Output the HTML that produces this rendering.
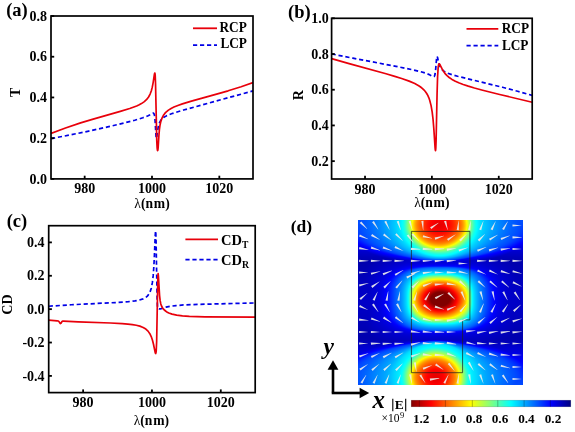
<!DOCTYPE html>
<html><head><meta charset="utf-8"><title>fig</title>
<style>
html,body{margin:0;padding:0;background:#fff;}
body{width:575px;height:432px;overflow:hidden;position:relative;}
#f{position:absolute;left:358px;top:220px;width:165px;height:164.5px;}
#s{position:absolute;left:0;top:0;}
</style></head><body>
<svg id="fb" width="575" height="432" style="position:absolute;left:0;top:0">
<defs>
<radialGradient id="gm"><stop offset="0" stop-color="#8c0000"/><stop offset="0.3" stop-color="#e00000"/><stop offset="0.5" stop-color="#ffa000"/><stop offset="0.6" stop-color="#ffff00"/><stop offset="0.7" stop-color="#00ffff"/><stop offset="0.85" stop-color="#0070ff" stop-opacity="0.6"/><stop offset="1" stop-color="#0000ff" stop-opacity="0"/></radialGradient>
<radialGradient id="gt"><stop offset="0" stop-color="#e80000"/><stop offset="0.3" stop-color="#ff3000"/><stop offset="0.5" stop-color="#ffb000"/><stop offset="0.62" stop-color="#ffff00"/><stop offset="0.75" stop-color="#00ffff"/><stop offset="0.88" stop-color="#0070ff" stop-opacity="0.6"/><stop offset="1" stop-color="#0000ff" stop-opacity="0"/></radialGradient>
<clipPath id="fc"><rect x="358" y="220" width="165" height="164.5"/></clipPath>
</defs>
<g clip-path="url(#fc)">
<rect x="358" y="220" width="165" height="164.5" fill="#0010c8"/>
<ellipse cx="440" cy="222" rx="110" ry="28" fill="#0060ff" opacity="0.6"/>
<ellipse cx="436" cy="382" rx="110" ry="28" fill="#0060ff" opacity="0.6"/>
<ellipse cx="440.3" cy="298.8" rx="52" ry="38" fill="url(#gm)"/>
<ellipse cx="439.5" cy="225" rx="50" ry="39" fill="url(#gt)"/>
<ellipse cx="435.5" cy="378" rx="50" ry="39" fill="url(#gt)"/>
</g></svg>
<canvas id="f" width="165" height="165"></canvas>
<svg id="s" width="575" height="432" viewBox="0 0 575 432">
<g font-family="'Liberation Serif', serif" font-weight="bold" fill="#000">
<clipPath id="c51"><rect x="51" y="16" width="202" height="162.9"/></clipPath>
<g clip-path="url(#c51)" fill="none" stroke-width="1.7" stroke-linejoin="round">
<path d="M51.00 138.60 L69.89 134.99 L88.78 131.09 L107.68 126.92 L124.05 123.02 L134.75 120.22 L142.76 117.79 L147.56 115.94 L149.62 114.94 L152.33 113.39 L153.19 113.12 L153.71 113.33 L154.11 113.98 L154.45 115.18 L154.74 116.98 L155.19 122.14 L155.98 135.79 L156.18 137.74 L156.40 138.40 L156.74 137.16 L157.60 130.73 L158.19 127.27 L158.86 124.52 L159.65 122.33 L160.75 120.34 L162.16 118.67 L163.98 117.22 L166.36 115.87 L169.40 114.55 L172.79 113.32 L183.52 110.03 L253.00 90.91" stroke="#0000e6" stroke-dasharray="4.2 2.8"/>
<path d="M51.00 133.50 L65.48 128.00 L80.60 122.91 L93.19 119.07 L120.27 111.40 L129.72 108.51 L136.64 105.95 L139.22 104.77 L141.45 103.59 L144.34 101.64 L146.69 99.47 L148.57 97.00 L150.12 94.07 L151.28 90.92 L152.28 87.14 L153.15 82.55 L154.38 74.43 L154.62 73.35 L154.80 73.03 L155.02 73.70 L155.21 75.61 L155.54 83.75 L156.76 140.78 L157.16 148.12 L157.41 150.03 L157.67 150.60 L157.90 149.88 L158.12 147.88 L158.90 135.43 L159.37 129.83 L159.96 125.45 L160.73 121.83 L162.00 118.11 L163.65 115.02 L164.64 113.66 L165.75 112.41 L168.43 110.13 L171.09 108.47 L173.92 107.06 L177.87 105.43 L182.39 103.85 L191.43 101.13 L215.72 94.42 L228.15 90.81 L241.14 86.71 L253.00 82.58" stroke="#e8000b"/>
</g>
<line x1="84.67" y1="178.90" x2="84.67" y2="175.70" stroke="#000" stroke-width="1.8"/>
<line x1="152.00" y1="178.90" x2="152.00" y2="175.70" stroke="#000" stroke-width="1.8"/>
<line x1="219.33" y1="178.90" x2="219.33" y2="175.70" stroke="#000" stroke-width="1.8"/>
<line x1="51.00" y1="178.90" x2="54.20" y2="178.90" stroke="#000" stroke-width="1.8"/>
<line x1="51.00" y1="138.18" x2="54.20" y2="138.18" stroke="#000" stroke-width="1.8"/>
<line x1="51.00" y1="97.45" x2="54.20" y2="97.45" stroke="#000" stroke-width="1.8"/>
<line x1="51.00" y1="56.73" x2="54.20" y2="56.73" stroke="#000" stroke-width="1.8"/>
<line x1="51.00" y1="16.00" x2="54.20" y2="16.00" stroke="#000" stroke-width="1.8"/>
<rect x="51.00" y="16.00" width="202.00" height="162.90" fill="none" stroke="#000" stroke-width="1.7"/>
<text x="46.90" y="183.50" font-size="14" text-anchor="end" >0.0</text>
<text x="46.90" y="142.78" font-size="14" text-anchor="end" >0.2</text>
<text x="46.90" y="102.05" font-size="14" text-anchor="end" >0.4</text>
<text x="46.90" y="61.33" font-size="14" text-anchor="end" >0.6</text>
<text x="46.90" y="20.60" font-size="14" text-anchor="end" >0.8</text>
<text x="84.67" y="193.20" font-size="14" text-anchor="middle" >980</text>
<text x="152.00" y="193.20" font-size="14" text-anchor="middle" >1000</text>
<text x="219.33" y="193.20" font-size="14" text-anchor="middle" >1020</text>
<text x="152.00" y="207.90" font-size="13.6" text-anchor="middle" ><tspan font-weight="normal">λ</tspan>(n<tspan dx="0.8">m</tspan>)</text>
<clipPath id="c331"><rect x="331.6" y="18.3" width="200.60000000000002" height="160.7"/></clipPath>
<g clip-path="url(#c331)" fill="none" stroke-width="1.7" stroke-linejoin="round">
<path d="M331.60 53.97 L352.86 58.16 L396.01 66.36 L412.90 69.82 L420.03 71.52 L425.25 73.04 L428.66 74.33 L432.73 76.43 L433.60 76.70 L434.10 76.54 L434.50 76.03 L434.83 75.13 L435.14 73.73 L435.64 69.60 L436.56 58.54 L436.82 56.83 L437.09 56.34 L437.49 57.24 L438.55 61.96 L439.22 64.37 L439.97 66.36 L440.86 68.03 L442.06 69.59 L443.55 70.92 L445.42 72.11 L447.78 73.21 L451.98 74.69 L457.59 76.28 L502.47 87.25 L517.61 91.26 L532.20 95.40" stroke="#0000e6" stroke-dasharray="4.2 2.8"/>
<path d="M331.60 58.65 L349.11 63.60 L386.01 73.77 L394.76 76.32 L401.64 78.47 L409.15 81.13 L414.77 83.57 L419.10 85.97 L420.92 87.23 L422.54 88.55 L424.10 90.06 L425.48 91.70 L426.71 93.47 L427.79 95.42 L428.76 97.57 L429.63 99.98 L431.09 105.59 L432.16 111.84 L433.08 119.71 L433.86 129.21 L435.05 147.40 L435.29 149.84 L435.49 150.64 L435.65 149.99 L435.80 148.11 L436.11 140.16 L437.08 93.57 L437.58 76.77 L438.20 67.11 L438.58 64.78 L438.80 64.16 L439.05 63.85 L439.43 63.94 L439.90 64.56 L442.24 69.22 L443.82 71.85 L445.34 73.87 L447.04 75.69 L449.18 77.52 L451.98 79.42 L455.35 81.24 L458.71 82.75 L463.20 84.47 L468.25 86.16 L474.42 88.01 L481.71 90.01 L499.66 94.52 L532.20 102.25" stroke="#e8000b"/>
</g>
<line x1="365.03" y1="179.00" x2="365.03" y2="175.80" stroke="#000" stroke-width="1.8"/>
<line x1="431.90" y1="179.00" x2="431.90" y2="175.80" stroke="#000" stroke-width="1.8"/>
<line x1="498.77" y1="179.00" x2="498.77" y2="175.80" stroke="#000" stroke-width="1.8"/>
<line x1="331.60" y1="161.14" x2="334.80" y2="161.14" stroke="#000" stroke-width="1.8"/>
<line x1="331.60" y1="125.43" x2="334.80" y2="125.43" stroke="#000" stroke-width="1.8"/>
<line x1="331.60" y1="89.72" x2="334.80" y2="89.72" stroke="#000" stroke-width="1.8"/>
<line x1="331.60" y1="54.01" x2="334.80" y2="54.01" stroke="#000" stroke-width="1.8"/>
<line x1="331.60" y1="18.30" x2="334.80" y2="18.30" stroke="#000" stroke-width="1.8"/>
<rect x="331.60" y="18.30" width="200.60" height="160.70" fill="none" stroke="#000" stroke-width="1.7"/>
<text x="328.70" y="165.74" font-size="14" text-anchor="end" >0.2</text>
<text x="328.70" y="130.03" font-size="14" text-anchor="end" >0.4</text>
<text x="328.70" y="94.32" font-size="14" text-anchor="end" >0.6</text>
<text x="328.70" y="58.61" font-size="14" text-anchor="end" >0.8</text>
<text x="328.70" y="22.90" font-size="14" text-anchor="end" >1.0</text>
<text x="365.03" y="193.60" font-size="14" text-anchor="middle" >980</text>
<text x="431.90" y="193.60" font-size="14" text-anchor="middle" >1000</text>
<text x="498.77" y="193.60" font-size="14" text-anchor="middle" >1020</text>
<text x="431.80" y="207.40" font-size="13.6" text-anchor="middle" ><tspan font-weight="normal">λ</tspan>(n<tspan dx="0.8">m</tspan>)</text>
<clipPath id="c48"><rect x="48.7" y="225.7" width="206.5" height="166.90000000000003"/></clipPath>
<g clip-path="url(#c48)" fill="none" stroke-width="1.7" stroke-linejoin="round">
<path d="M48.70 306.25 L71.23 304.75 L115.65 302.53 L128.53 301.64 L134.96 300.88 L139.46 300.01 L143.04 298.86 L144.50 298.17 L145.79 297.37 L147.07 296.33 L148.17 295.12 L149.13 293.70 L149.96 292.07 L150.68 290.17 L151.32 287.97 L152.39 282.39 L153.15 275.91 L153.80 267.28 L154.37 256.34 L155.23 235.22 L155.59 230.88 L155.83 233.26 L156.07 241.12 L157.14 299.41 L157.50 306.45 L157.74 307.92 L158.09 308.51 L159.21 308.91 L160.24 308.94 L166.02 307.18 L170.31 306.28 L176.09 305.54 L183.59 304.97 L200.34 304.31 L255.20 302.94" stroke="#0000e6" stroke-dasharray="4.2 2.8"/>
<path d="M48.70 320.20 L57.07 320.78 L58.36 321.01 L59.00 321.59 L60.29 323.62 L60.93 323.22 L61.58 322.09 L62.22 321.36 L62.86 321.17 L63.51 321.17 L78.31 321.88 L110.50 323.02 L122.09 323.59 L127.88 324.05 L132.39 324.58 L136.25 325.24 L139.85 326.15 L143.14 327.43 L145.83 329.06 L148.03 331.12 L149.84 333.68 L151.22 336.53 L152.41 339.97 L153.49 344.25 L155.11 352.16 L155.44 353.26 L155.69 353.53 L155.99 352.71 L156.23 350.58 L156.66 341.20 L157.71 283.27 L157.92 276.14 L158.14 273.64 L158.41 276.02 L159.57 295.59 L160.12 300.46 L160.81 303.90 L161.31 305.46 L161.91 306.81 L162.65 308.04 L163.56 309.20 L164.65 310.29 L165.89 311.27 L167.28 312.16 L168.81 312.93 L172.05 314.10 L176.67 315.14 L182.44 315.88 L189.37 316.37 L204.96 316.80 L255.20 317.20" stroke="#e8000b"/>
</g>
<line x1="83.12" y1="392.60" x2="83.12" y2="389.40" stroke="#000" stroke-width="1.8"/>
<line x1="151.95" y1="392.60" x2="151.95" y2="389.40" stroke="#000" stroke-width="1.8"/>
<line x1="220.78" y1="392.60" x2="220.78" y2="389.40" stroke="#000" stroke-width="1.8"/>
<line x1="48.70" y1="375.91" x2="51.90" y2="375.91" stroke="#000" stroke-width="1.8"/>
<line x1="48.70" y1="342.53" x2="51.90" y2="342.53" stroke="#000" stroke-width="1.8"/>
<line x1="48.70" y1="309.15" x2="51.90" y2="309.15" stroke="#000" stroke-width="1.8"/>
<line x1="48.70" y1="275.77" x2="51.90" y2="275.77" stroke="#000" stroke-width="1.8"/>
<line x1="48.70" y1="242.39" x2="51.90" y2="242.39" stroke="#000" stroke-width="1.8"/>
<rect x="48.70" y="225.70" width="206.50" height="166.90" fill="none" stroke="#000" stroke-width="1.7"/>
<text x="44.60" y="380.51" font-size="14" text-anchor="end" >-0.4</text>
<text x="44.60" y="347.13" font-size="14" text-anchor="end" >-0.2</text>
<text x="44.60" y="313.75" font-size="14" text-anchor="end" >0.0</text>
<text x="44.60" y="280.37" font-size="14" text-anchor="end" >0.2</text>
<text x="44.60" y="246.99" font-size="14" text-anchor="end" >0.4</text>
<text x="83.12" y="407.30" font-size="14" text-anchor="middle" >980</text>
<text x="151.95" y="407.30" font-size="14" text-anchor="middle" >1000</text>
<text x="220.78" y="407.30" font-size="14" text-anchor="middle" >1020</text>
<text x="151.40" y="424.60" font-size="13.6" text-anchor="middle" ><tspan font-weight="normal">λ</tspan>(n<tspan dx="0.8">m</tspan>)</text>
<text transform="translate(19.5,92.3) rotate(-90)" font-size="14" text-anchor="middle">T</text>
<text transform="translate(303.2,95.1) rotate(-90)" font-size="14" text-anchor="middle">R</text>
<text transform="translate(12.2,304.6) rotate(-90)" font-size="14" text-anchor="middle">CD</text>
<text x="6.20" y="16.20" font-size="18.5" text-anchor="start" >(a)</text>
<text x="288.00" y="17.90" font-size="18.5" text-anchor="start" >(b)</text>
<text x="6.70" y="227.10" font-size="18.5" text-anchor="start" >(c)</text>
<text x="290.70" y="232.20" font-size="17.5" text-anchor="start" >(d)</text>
<line x1="193" y1="28.3" x2="217" y2="28.3" stroke="#e8000b" stroke-width="1.8"/>
<line x1="193" y1="45.2" x2="217" y2="45.2" stroke="#0000e6" stroke-width="1.8" stroke-dasharray="4.2 2.8"/>
<text transform="translate(219.50,31.70) scale(0.93,1)" font-size="14.3" text-anchor="start" >RCP</text>
<text transform="translate(220.40,48.30) scale(0.93,1)" font-size="14.3" text-anchor="start" >LCP</text>
<line x1="466.5" y1="28.8" x2="498.3" y2="28.8" stroke="#e8000b" stroke-width="1.8"/>
<line x1="466.5" y1="45.7" x2="498.3" y2="45.7" stroke="#0000e6" stroke-width="1.8" stroke-dasharray="4.2 2.8"/>
<text transform="translate(501.70,33.10) scale(0.93,1)" font-size="14.3" text-anchor="start" >RCP</text>
<text transform="translate(501.90,49.90) scale(0.93,1)" font-size="14.3" text-anchor="start" >LCP</text>
<line x1="185.4" y1="239.4" x2="218" y2="239.4" stroke="#e8000b" stroke-width="1.8"/>
<line x1="185.4" y1="259.6" x2="218" y2="259.6" stroke="#0000e6" stroke-width="1.8" stroke-dasharray="4.2 2.8"/>
<text x="221.00" y="244.60" font-size="14.5" text-anchor="start" >CD<tspan font-size="9.5" dy="3.4">T</tspan></text>
<text x="221.00" y="265.00" font-size="14.5" text-anchor="start" >CD<tspan font-size="9.8" dy="3.4">R</tspan></text>
</g>
<path d="M411.4 231.4 H469.9 V319.9 H462.6 V372.7 H411.4 Z" fill="none" stroke="#222" stroke-opacity="0.75" stroke-width="1"/>
<path d="M359.7,222.9 367.0,229.0 367.2,228.8 361.3,221.4ZM372.1,222.2 378.1,229.5 378.3,229.3 373.9,221.0ZM384.3,221.8 389.4,229.7 389.6,229.6 386.2,220.8ZM396.7,221.4 400.5,230.0 400.8,229.9 398.8,220.7ZM481.2,230.3 483.5,221.1 483.3,221.0 479.2,229.5ZM492.6,230.2 495.7,221.3 495.5,221.2 490.6,229.3ZM504.0,230.1 507.9,221.5 507.6,221.4 502.1,229.0ZM512.5,226.6 521.9,225.6 521.9,225.4 512.5,224.4ZM359.0,236.5 368.1,239.3 368.2,239.0 359.9,234.5ZM371.0,235.9 379.6,239.8 379.7,239.5 372.1,234.0ZM383.0,235.3 391.1,240.2 391.2,240.0 384.3,233.6ZM395.1,234.8 402.5,240.7 402.7,240.5 396.6,233.2ZM479.3,241.4 485.2,234.1 485.0,233.9 477.7,239.8ZM490.1,240.6 497.7,235.1 497.6,234.8 489.0,238.7ZM501.4,240.0 509.8,235.7 509.7,235.5 500.6,238.0ZM512.5,238.4 521.9,237.4 521.9,237.2 512.5,236.2ZM359.0,249.3 368.4,249.9 368.5,249.7 359.4,247.1ZM370.8,248.7 380.1,250.5 380.1,250.3 371.4,246.6ZM382.6,248.4 391.8,250.7 391.9,250.5 383.4,246.4ZM394.5,248.0 403.4,251.1 403.5,250.9 395.4,246.0ZM477.9,251.8 486.2,247.3 486.1,247.0 477.0,249.8ZM489.4,251.4 498.1,247.7 498.1,247.5 488.8,249.3ZM500.9,250.7 510.1,248.5 510.0,248.2 500.6,248.6ZM512.5,250.1 521.9,249.1 521.9,248.9 512.5,247.9ZM359.1,261.9 368.5,260.9 368.5,260.7 359.1,259.7ZM370.9,261.9 380.3,260.9 380.3,260.7 370.9,259.7ZM382.7,261.9 392.1,260.9 392.1,260.7 382.7,259.7ZM394.5,261.9 403.9,260.9 403.9,260.7 394.5,259.7ZM477.1,261.9 486.5,260.9 486.5,260.7 477.1,259.7ZM488.9,261.9 498.3,260.9 498.3,260.7 488.9,259.7ZM500.7,261.9 510.1,260.9 510.1,260.7 500.7,259.7ZM512.5,261.9 521.9,260.9 521.9,260.7 512.5,259.7ZM359.1,273.6 368.5,272.6 368.5,272.4 359.1,271.4ZM371.3,274.8 380.2,271.4 380.1,271.2 370.8,272.7ZM383.5,275.3 391.8,270.9 391.7,270.6 382.6,273.2ZM395.7,275.8 403.3,270.3 403.2,270.0 394.6,273.9ZM477.1,271.5 486.0,274.6 486.1,274.4 478.0,269.5ZM488.9,271.5 497.8,274.6 497.9,274.4 489.8,269.5ZM500.6,272.3 509.9,273.9 510.0,273.7 501.2,270.1ZM512.4,272.3 521.7,273.8 521.8,273.6 512.9,270.2ZM359.5,286.6 368.4,283.2 368.3,283.0 359.0,284.5ZM372.4,287.9 379.5,281.7 379.4,281.5 371.1,286.1ZM384.9,288.4 390.8,281.1 390.6,280.9 383.3,286.8ZM397.0,288.6 402.3,280.8 402.1,280.6 395.3,287.2ZM477.6,282.0 485.2,287.5 485.4,287.4 479.0,280.3ZM489.3,282.1 497.1,287.4 497.3,287.2 490.7,280.4ZM501.1,282.1 508.9,287.4 509.1,287.2 502.5,280.4ZM512.5,283.3 521.4,286.4 521.5,286.2 513.4,281.3ZM360.9,299.9 367.5,293.1 367.3,292.9 359.5,298.2ZM374.6,300.7 377.7,291.8 377.5,291.7 372.6,299.8ZM387.7,300.8 388.3,291.4 388.1,291.3 385.5,300.4ZM399.5,300.8 400.1,291.4 399.9,291.3 397.3,300.4ZM479.4,291.8 483.0,300.6 483.2,300.5 481.6,291.2ZM491.5,291.6 494.5,300.6 494.7,300.6 493.7,291.2ZM502.3,292.3 507.4,300.2 507.6,300.1 504.2,291.3ZM513.7,292.7 519.7,300.0 519.9,299.8 515.5,291.5ZM359.1,307.0 368.0,310.1 368.1,309.9 360.0,305.0ZM372.0,304.8 378.2,311.9 378.4,311.8 373.8,303.5ZM384.1,304.5 389.6,312.1 389.9,312.0 386.0,303.4ZM396.0,304.4 401.3,312.2 401.5,312.1 398.0,303.3ZM481.0,312.8 483.8,303.7 483.5,303.6 479.0,311.9ZM492.4,312.7 495.8,303.9 495.6,303.8 490.5,311.7ZM503.7,312.5 508.1,304.2 507.9,304.0 501.9,311.3ZM514.4,312.0 520.8,304.9 520.6,304.8 513.0,310.3ZM359.0,320.7 368.5,320.5 368.5,320.3 359.2,318.5ZM370.8,319.4 380.0,321.7 380.1,321.5 371.6,317.4ZM382.9,318.4 391.3,322.7 391.4,322.5 384.1,316.5ZM394.8,318.0 402.9,322.9 403.0,322.7 396.1,316.3ZM478.9,323.9 485.5,317.1 485.3,316.9 477.5,322.2ZM490.7,323.9 497.3,317.1 497.1,316.9 489.3,322.2ZM501.7,323.1 509.6,318.0 509.5,317.8 500.7,321.2ZM513.0,322.4 521.8,318.8 521.7,318.6 512.4,320.2ZM359.1,333.1 368.5,332.1 368.5,331.9 359.1,330.9ZM370.9,333.1 380.3,332.1 380.3,331.9 370.9,330.9ZM382.7,333.1 392.1,332.1 392.1,331.9 382.7,330.9ZM394.5,333.1 403.9,332.1 403.9,331.9 394.5,330.9ZM477.4,333.9 486.5,331.3 486.4,331.1 477.0,331.7ZM489.2,333.9 498.3,331.3 498.2,331.1 488.8,331.7ZM500.9,333.8 510.1,331.4 510.0,331.1 500.6,331.6ZM512.6,333.5 521.9,331.7 521.9,331.5 512.4,331.3ZM359.1,344.6 368.5,343.6 368.5,343.4 359.1,342.4ZM371.0,344.8 380.3,343.4 380.3,343.1 370.8,342.6ZM382.8,345.0 392.1,343.2 392.1,343.0 382.6,342.8ZM394.6,345.0 403.9,343.2 403.9,343.0 394.4,342.8ZM477.0,344.3 486.5,344.0 486.5,343.7 477.2,342.1ZM488.9,344.6 498.3,343.6 498.3,343.4 488.9,342.4ZM500.7,344.6 510.1,343.6 510.1,343.4 500.7,342.4ZM512.5,344.6 521.9,343.6 521.9,343.4 512.5,342.4ZM359.8,357.6 368.3,353.5 368.2,353.3 359.0,355.6ZM371.8,358.0 379.9,353.1 379.8,352.9 370.9,356.0ZM383.8,358.2 391.6,352.9 391.5,352.7 382.7,356.2ZM395.7,358.3 403.3,352.8 403.2,352.5 394.6,356.4ZM477.1,354.0 486.0,357.1 486.1,356.9 478.0,352.0ZM488.8,354.7 498.1,356.5 498.1,356.3 489.4,352.6ZM500.6,355.7 510.1,355.5 510.1,355.3 500.8,353.5ZM512.5,356.1 521.9,355.1 521.9,354.9 512.5,353.9ZM360.6,370.6 367.7,364.4 367.6,364.2 359.3,368.8ZM372.7,370.9 379.3,364.1 379.1,363.9 371.3,369.2ZM384.6,371.0 391.0,363.9 390.8,363.8 383.2,369.3ZM396.7,371.1 402.6,363.8 402.4,363.6 395.1,369.5ZM477.6,364.7 485.2,370.2 485.4,370.1 479.0,363.0ZM489.2,365.1 497.3,369.9 497.5,369.7 490.4,363.3ZM500.6,366.8 509.9,368.3 510.0,368.1 501.1,364.7ZM512.5,368.1 521.9,367.1 521.9,366.9 512.5,365.9ZM362.4,383.6 366.3,375.0 366.0,374.9 360.5,382.5ZM374.6,383.7 377.7,374.8 377.5,374.7 372.6,382.8ZM386.7,383.8 389.3,374.7 389.0,374.6 384.6,382.9ZM398.6,383.8 400.9,374.6 400.7,374.5 396.6,383.0ZM479.2,375.0 483.3,383.5 483.5,383.4 481.2,374.2ZM491.0,375.0 495.1,383.5 495.3,383.4 493.0,374.2ZM501.8,375.8 508.0,382.9 508.2,382.8 503.6,374.5ZM512.5,380.1 521.9,379.1 521.9,378.9 512.5,377.9ZM408.7,221.2 412.1,230.1 412.3,230.0 410.8,220.7ZM409.1,374.6 411.7,383.7 411.9,383.6 411.3,374.2ZM421.3,220.9 423.1,230.2 423.3,230.2 423.5,220.7ZM419.4,375.6 425.2,383.1 425.4,382.9 421.2,374.4ZM431.4,229.1 438.5,222.9 438.4,222.7 430.1,227.3ZM430.1,380.8 439.3,378.4 439.2,378.1 429.8,378.6ZM444.0,221.3 447.6,230.1 447.8,230.0 446.2,220.7ZM445.3,383.7 448.6,374.8 448.3,374.7 443.4,382.7ZM458.9,230.3 458.7,220.8 458.5,220.8 456.7,230.1ZM458.7,383.8 458.9,374.4 458.6,374.3 456.5,383.5ZM470.3,230.3 470.9,220.9 470.7,220.8 468.1,229.9ZM468.1,374.6 470.7,383.7 470.9,383.6 470.3,374.2ZM411.5,234.8 418.8,240.7 419.0,240.5 413.1,233.2ZM422.7,237.3 432.1,238.5 432.1,238.2 423.2,235.2ZM435.3,239.7 444.0,236.0 444.0,235.8 434.7,237.6ZM448.2,240.8 455.5,234.8 455.4,234.6 447.0,238.9ZM460.8,241.4 466.7,234.1 466.5,233.9 459.2,239.8ZM410.8,249.9 420.3,249.4 420.3,249.1 411.0,247.7ZM422.7,249.9 432.2,249.4 432.2,249.1 422.9,247.7ZM434.9,250.3 444.2,248.9 444.2,248.6 434.7,248.1ZM447.0,250.7 456.2,248.6 456.1,248.3 446.7,248.5ZM459.2,251.5 467.8,247.7 467.7,247.4 458.5,249.4ZM410.9,261.9 420.3,260.9 420.3,260.7 410.9,259.7ZM422.9,262.1 432.2,260.7 432.2,260.4 422.7,259.9ZM434.9,262.3 444.2,260.5 444.2,260.3 434.7,260.1ZM446.9,262.3 456.2,260.5 456.2,260.3 446.7,260.1ZM458.6,264.6 468.0,263.6 468.0,263.4 458.6,262.4ZM411.6,275.1 420.1,271.0 420.0,270.8 410.8,273.1ZM423.0,274.2 432.2,272.0 432.1,271.7 422.7,272.1ZM434.8,273.6 444.2,272.6 444.2,272.4 434.8,271.4ZM446.7,273.4 456.2,272.9 456.2,272.6 446.9,271.2ZM458.5,272.5 467.9,273.7 467.9,273.4 459.0,270.4ZM413.1,288.4 419.0,281.1 418.8,280.9 411.5,286.8ZM423.5,286.9 432.0,282.8 431.9,282.6 422.7,284.9ZM434.9,285.7 444.2,284.1 444.2,283.8 434.7,283.5ZM446.7,284.7 456.1,285.2 456.2,284.9 447.0,282.5ZM459.1,282.0 466.7,287.5 466.9,287.4 460.5,280.3ZM415.3,300.8 417.1,291.5 416.9,291.5 413.2,300.2ZM426.1,300.6 430.0,292.0 429.7,291.9 424.2,299.5ZM435.9,299.2 443.7,293.9 443.6,293.7 434.8,297.2ZM447.4,293.5 454.7,299.4 454.9,299.2 449.0,291.9ZM460.5,292.1 465.0,300.4 465.3,300.3 462.5,291.2ZM412.3,304.5 417.8,312.1 418.1,312.0 414.2,303.4ZM423.1,306.0 431.1,311.0 431.3,310.8 424.5,304.2ZM434.7,307.7 444.0,309.5 444.0,309.3 435.3,305.6ZM447.6,310.8 455.9,306.3 455.8,306.0 446.7,308.8ZM461.1,312.3 466.4,304.5 466.2,304.3 459.4,310.9ZM411.0,318.6 419.6,322.5 419.7,322.2 412.1,316.7ZM422.7,319.8 432.0,321.3 432.1,321.1 423.2,317.7ZM434.8,321.1 444.2,320.1 444.2,319.9 434.8,318.9ZM447.0,321.8 456.2,319.4 456.1,319.1 446.7,319.6ZM459.4,322.8 467.7,318.4 467.6,318.1 458.5,320.7ZM410.8,332.4 420.2,332.8 420.3,332.5 411.1,330.3ZM422.7,332.7 432.2,332.5 432.2,332.3 422.9,330.5ZM434.7,332.9 444.2,332.4 444.2,332.1 434.9,330.7ZM446.8,333.1 456.2,332.1 456.2,331.9 446.8,330.9ZM411.3,345.7 420.2,342.5 420.1,342.2 410.8,343.6ZM422.7,344.3 432.2,344.0 432.2,343.7 422.9,342.1ZM434.7,344.4 444.2,343.9 444.2,343.6 434.9,342.2ZM446.7,343.9 456.1,344.4 456.2,344.1 447.0,341.7ZM411.6,357.6 420.1,353.5 420.0,353.3 410.8,355.6ZM422.7,355.4 432.1,355.8 432.2,355.5 423.0,353.3ZM434.7,355.9 444.2,355.4 444.2,355.1 434.9,353.7ZM446.7,354.4 455.9,356.7 456.0,356.5 447.5,352.4ZM413.7,362.6 416.3,371.7 416.5,371.6 415.9,362.2ZM423.5,369.7 431.9,365.4 431.8,365.2 422.7,367.7ZM435.0,365.2 443.3,369.8 443.4,369.6 436.3,363.4ZM447.7,364.0 454.4,370.7 454.6,370.6 449.4,362.7ZM406.7,235.6 413.1,242.7 413.3,242.5 408.5,234.4ZM407.2,278.4 415.3,273.7 415.2,273.5 406.3,276.4ZM466.2,332.5 475.5,330.7 475.5,330.5 466.0,330.3ZM466.3,343.6 475.7,344.8 475.7,344.5 466.8,341.5ZM465.7,354.0 474.5,357.5 474.6,357.3 466.8,352.0ZM467.8,362.9 473.3,370.5 473.6,370.4 469.7,361.8Z" fill="#ececec" fill-opacity="0.92"/>
<path d="M333 392.5 V368" stroke="#000" stroke-width="2.6" fill="none"/>
<path d="M327.6 369.8 L333 360.2 L338.4 369.8 Z" fill="#000"/>
<path d="M331.7 393 H361" stroke="#000" stroke-width="2.6" fill="none"/>
<path d="M359.6 387.8 L369.2 393 L359.6 398.2 Z" fill="#000"/>
<text x="323.6" y="353.6" font-family="'Liberation Serif', serif" font-style="italic" font-weight="bold" font-size="23.5">y</text>
<text x="372.5" y="408" font-family="'Liberation Serif', serif" font-style="italic" font-weight="bold" font-size="25">x</text>
<linearGradient id="jet" x1="0" x2="1" y1="0" y2="0"><stop offset="0" stop-color="#800000"/><stop offset="0.125" stop-color="#ff0000"/><stop offset="0.375" stop-color="#ffff00"/><stop offset="0.625" stop-color="#00ffff"/><stop offset="0.875" stop-color="#0000ff"/><stop offset="1" stop-color="#000080"/></linearGradient>
<rect x="411.2" y="400.2" width="159.6" height="6.6" fill="url(#jet)" stroke="#000" stroke-opacity="0.25" stroke-width="0.6"/>
<line x1="419.3" y1="400.2" x2="419.3" y2="406.8" stroke="#000" stroke-opacity="0.35" stroke-width="0.8"/>
<line x1="445.4" y1="400.2" x2="445.4" y2="406.8" stroke="#000" stroke-opacity="0.35" stroke-width="0.8"/>
<line x1="472.3" y1="400.2" x2="472.3" y2="406.8" stroke="#000" stroke-opacity="0.35" stroke-width="0.8"/>
<line x1="497.8" y1="400.2" x2="497.8" y2="406.8" stroke="#000" stroke-opacity="0.35" stroke-width="0.8"/>
<line x1="524.1" y1="400.2" x2="524.1" y2="406.8" stroke="#000" stroke-opacity="0.35" stroke-width="0.8"/>
<line x1="550.4" y1="400.2" x2="550.4" y2="406.8" stroke="#000" stroke-opacity="0.35" stroke-width="0.8"/>
<g font-family="'Liberation Serif', serif" font-weight="bold" font-size="13.2" text-anchor="middle">
<text x="421.2" y="423.0">1.2</text>
<text x="448.0" y="423.0">1.0</text>
<text x="474.1" y="423.0">0.8</text>
<text x="500.0" y="423.0">0.6</text>
<text x="526.4" y="423.0">0.4</text>
<text x="553.0" y="423.0">0.2</text>
</g>
<path d="M392.8 398.8V411.3M405.7 398.8V411.3" stroke="#000" stroke-width="1.1"/>
<text x="394.7" y="409" font-family="'Liberation Serif', serif" font-weight="bold" font-size="13.5">E</text>
<text x="381.6" y="421.8" font-family="'Liberation Serif', serif" font-size="11.5">×10<tspan font-size="8.5" dx="0.4" dy="-4">9</tspan></text>
</svg>
<script>
(function(){
var cv=document.getElementById('f'),ctx=cv.getContext('2d');
var W=165,H=165,X0=358,Y0=220,SY=164.5/165;
var im=ctx.createImageData(W,H),d=im.data,A=Math.abs,S=Math.sqrt;
function cl(a){return a<0?0:(a>1?1:a);}
function lk(T,r){if(r>=140)return T[140];var i=Math.floor(r),f=r-i;return T[i]*(1-f)+T[i+1]*f;}
var B=[[439.5,225.0,[1.14,1.1389,1.1369,1.1341,1.1306,1.1265,1.1218,1.1168,1.1114,1.1058,1.1,1.0935,1.0858,1.077,1.0671,1.0564,1.0449,1.0327,1.0199,1.0067,0.993,0.9777,0.9601,0.94,0.9157,0.887,0.8553,0.8219,0.7873,0.7483,0.7079,0.6702,0.6367,0.6036,0.5723,0.5449,0.5234,0.5077,0.4945,0.483,0.4731,0.4642,0.456,0.4485,0.4417,0.4354,0.4294,0.4238,0.4183,0.4128,0.4072,0.4018,0.3964,0.3912,0.3861,0.3811,0.3762,0.3714,0.3668,0.3622,0.3578,0.3535,0.3492,0.3451,0.341,0.337,0.3331,0.3293,0.3255,0.3218,0.3182,0.3148,0.3116,0.3084,0.3054,0.3024,0.2994,0.2963,0.293,0.2896,0.286,0.2821,0.2778,0.2732,0.2681,0.2627,0.257,0.2511,0.245,0.2387,0.2323,0.2258,0.2193,0.2128,0.2063,0.2,0.1936,0.1868,0.1798,0.1726,0.1653,0.1579,0.1506,0.1433,0.1361,0.1292,0.1226,0.1163,0.1103,0.1049,0.1,0.0954,0.0908,0.0863,0.0818,0.0773,0.0729,0.0686,0.0643,0.0601,0.056,0.052,0.0481,0.0442,0.0405,0.0369,0.0334,0.03,0.0267,0.0236,0.0206,0.0178,0.0151,0.0126,0.0102,0.0081,0.0061,0.0043,0.0026,0.0012,0.0],[1.25,1.2476,1.2453,1.2431,1.2411,1.2392,1.2374,1.2357,1.2341,1.2327,1.2313,1.23,1.2289,1.2278,1.2268,1.226,1.2251,1.2244,1.2238,1.2232,1.2226,1.2222,1.2218,1.2214,1.2211,1.2209,1.2206,1.2205,1.2203,1.2202,1.2201,1.2201,1.22,1.22,1.22,1.22,1.22,1.2239,1.2346,1.2511,1.272,1.2961,1.3222,1.349,1.3754,1.4,1.4241,1.4496,1.4763,1.5041,1.5328,1.5624,1.5926,1.6234,1.6545,1.6859,1.7173,1.7487,1.7799,1.8108,1.8412,1.871,1.9,1.9286,1.9573,1.986,2.0148,2.0435,2.0721,2.1007,2.1291,2.1574,2.1855,2.2134,2.241,2.2684,2.2954,2.3222,2.3485,2.3745,2.4,2.4261,2.4535,2.4818,2.5106,2.5395,2.5682,2.5963,2.6233,2.6488,2.6726,2.6941,2.7129,2.7288,2.7413,2.75,2.7566,2.763,2.7693,2.7755,2.7815,2.7873,2.793,2.7986,2.804,2.8093,2.8144,2.8193,2.8241,2.8288,2.8333,2.8377,2.8419,2.846,2.8499,2.8537,2.8573,2.8608,2.8641,2.8673,2.8704,2.8733,2.876,2.8786,2.881,2.8833,2.8855,2.8875,2.8893,2.891,2.8926,2.894,2.8953,2.8964,2.8973,2.8981,2.8988,2.8993,2.8997,2.8999,2.9],[2.0,2.0,2.0,2.0,2.0,2.0,2.0,2.0,2.0,2.0,2.0,2.0,2.0,2.0,2.0,2.0,2.0,2.0,2.0,2.0,2.0,2.0,2.0,2.0,2.0,2.0,2.0,2.0,2.0,2.0,2.0,2.0,2.0,2.0,2.0,2.0,2.0,2.0,2.0,2.0,2.0,2.0,2.0,2.0,2.0,2.0,2.0,2.0,2.0,2.0,2.0,2.0,2.0,2.0,2.0,2.0,2.0,2.0,2.0,2.0,2.0,2.0,2.0,2.0,2.0,2.0,2.0,2.0,2.0,2.0,2.0,2.0,2.0,2.0,2.0,2.0,2.0,2.0,2.0,2.0,2.0,2.0,2.0,2.0,2.0,2.0,2.0,2.0,2.0,2.0,2.0,2.0,2.0,2.0,2.0,2.0,2.0,2.0,2.0,2.0,2.0,2.0,2.0,2.0,2.0,2.0,2.0,2.0,2.0,2.0,2.0,2.0,2.0,2.0,2.0,2.0,2.0,2.0,2.0,2.0,2.0,2.0,2.0,2.0,2.0,2.0,2.0,2.0,2.0,2.0,2.0,2.0,2.0,2.0,2.0,2.0,2.0,2.0,2.0,2.0,2.0]],[440.3,298.8,[1.33,1.3289,1.3258,1.321,1.3146,1.3071,1.2987,1.2895,1.28,1.2677,1.2509,1.2308,1.2086,1.1856,1.1629,1.1416,1.1206,1.0991,1.077,1.0541,1.03,1.0051,0.9791,0.9511,0.92,0.8844,0.844,0.8,0.7517,0.6982,0.6378,0.565,0.51,0.4799,0.4567,0.4377,0.42,0.403,0.3877,0.3735,0.36,0.3471,0.335,0.3233,0.3118,0.3,0.2878,0.2755,0.2632,0.2513,0.24,0.229,0.2181,0.2078,0.1983,0.19,0.1827,0.176,0.17,0.1646,0.16,0.156,0.1523,0.1489,0.1458,0.1428,0.14,0.1374,0.1349,0.1324,0.13,0.1277,0.1255,0.1234,0.1214,0.1194,0.1175,0.1156,0.1138,0.1119,0.11,0.1081,0.1061,0.1042,0.1023,0.1004,0.0984,0.0965,0.0946,0.0927,0.0908,0.0889,0.087,0.0851,0.0832,0.0813,0.0794,0.0775,0.0756,0.0737,0.0718,0.0699,0.0681,0.0662,0.0643,0.0625,0.0606,0.0587,0.0569,0.055,0.0532,0.0513,0.0495,0.0477,0.0458,0.044,0.0422,0.0404,0.0386,0.0368,0.035,0.0332,0.0314,0.0296,0.0278,0.026,0.0242,0.0225,0.0207,0.019,0.0172,0.0155,0.0137,0.012,0.0103,0.0085,0.0068,0.0051,0.0034,0.0017,0.0],[1.38,1.38,1.38,1.38,1.38,1.38,1.38,1.38,1.38,1.38,1.38,1.38,1.38,1.38,1.38,1.38,1.38,1.38,1.38,1.38,1.38,1.3795,1.378,1.3756,1.3726,1.3688,1.3646,1.36,1.3507,1.3354,1.3188,1.3055,1.3,1.3012,1.3047,1.3101,1.3173,1.3258,1.3355,1.3461,1.3572,1.3686,1.38,1.3935,1.4108,1.4312,1.454,1.4785,1.5039,1.5297,1.555,1.5791,1.6014,1.6211,1.6376,1.65,1.6602,1.6702,1.68,1.6895,1.6986,1.7073,1.7154,1.7228,1.7295,1.7354,1.7405,1.7445,1.7475,1.7494,1.75,1.75,1.75,1.75,1.75,1.75,1.75,1.75,1.75,1.75,1.75,1.75,1.75,1.75,1.75,1.75,1.75,1.75,1.75,1.75,1.75,1.75,1.75,1.75,1.75,1.75,1.75,1.75,1.75,1.75,1.75,1.75,1.75,1.75,1.75,1.75,1.75,1.75,1.75,1.75,1.75,1.75,1.75,1.75,1.75,1.75,1.75,1.75,1.75,1.75,1.75,1.75,1.75,1.75,1.75,1.75,1.75,1.75,1.75,1.75,1.75,1.75,1.75,1.75,1.75,1.75,1.75,1.75,1.75,1.75,1.75],[2.0,2.0,2.0,2.0,2.0,2.0,2.0,2.0,2.0,2.0,2.0,2.0,2.0,2.0,2.0,2.0,2.0,2.0,2.0,2.0,2.0,2.0,2.0,2.0197,2.0741,2.1562,2.2593,2.3762,2.5,2.6238,2.7407,2.8438,2.9259,2.9803,3.0,3.0,3.0,3.0,3.0,3.0,3.0,3.0,3.0,3.0,3.0,3.0,3.0,3.0,3.0,3.0,3.0,3.0,3.0,3.0,3.0,3.0,3.0,3.0,3.0,3.0,3.0,3.0,3.0,3.0,3.0,3.0,3.0,3.0,3.0,3.0,3.0,3.0,3.0,3.0,3.0,3.0,3.0,3.0,3.0,3.0,3.0,3.0,3.0,3.0,3.0,3.0,3.0,3.0,3.0,3.0,3.0,3.0,3.0,3.0,3.0,3.0,3.0,3.0,3.0,3.0,3.0,3.0,3.0,3.0,3.0,3.0,3.0,3.0,3.0,3.0,3.0,3.0,3.0,3.0,3.0,3.0,3.0,3.0,3.0,3.0,3.0,3.0,3.0,3.0,3.0,3.0,3.0,3.0,3.0,3.0,3.0,3.0,3.0,3.0,3.0,3.0,3.0,3.0,3.0,3.0,3.0]],[435.5,377.0,[1.14,1.1393,1.1375,1.1346,1.1308,1.1263,1.1212,1.1157,1.11,1.1028,1.0932,1.0815,1.0682,1.0537,1.0385,1.0229,1.0075,0.9926,0.9772,0.9599,0.9388,0.9127,0.8827,0.8506,0.8179,0.7852,0.75,0.714,0.6793,0.6474,0.6146,0.5817,0.551,0.5248,0.5054,0.4935,0.4844,0.4768,0.4704,0.4647,0.4591,0.4532,0.4467,0.4399,0.4332,0.4266,0.4201,0.4138,0.408,0.4025,0.3976,0.393,0.3887,0.3846,0.3808,0.377,0.3733,0.3696,0.3658,0.362,0.358,0.3539,0.3498,0.3457,0.3416,0.3375,0.3335,0.3295,0.3256,0.3218,0.3182,0.3148,0.3116,0.3084,0.3054,0.3024,0.2994,0.2963,0.293,0.2896,0.286,0.2821,0.2778,0.2732,0.2681,0.2627,0.257,0.2511,0.245,0.2387,0.2323,0.2258,0.2193,0.2128,0.2063,0.2,0.1936,0.1868,0.1798,0.1726,0.1653,0.1579,0.1506,0.1433,0.1361,0.1292,0.1226,0.1163,0.1103,0.1049,0.1,0.0954,0.0908,0.0863,0.0818,0.0773,0.0729,0.0686,0.0643,0.0601,0.056,0.052,0.0481,0.0442,0.0405,0.0369,0.0334,0.03,0.0267,0.0236,0.0206,0.0178,0.0151,0.0126,0.0102,0.0081,0.0061,0.0043,0.0026,0.0012,0.0],[1.12,1.12,1.12,1.12,1.12,1.12,1.12,1.12,1.12,1.12,1.12,1.12,1.12,1.12,1.12,1.12,1.12,1.12,1.12,1.12,1.12,1.12,1.12,1.12,1.12,1.12,1.12,1.12,1.12,1.12,1.12,1.12,1.12,1.12,1.12,1.12,1.12,1.1251,1.1391,1.1606,1.1876,1.2188,1.2522,1.2864,1.3195,1.35,1.3794,1.4103,1.4424,1.4756,1.5096,1.5442,1.5793,1.6145,1.6498,1.6849,1.7196,1.7536,1.7868,1.819,1.85,1.8802,1.9103,1.9402,1.9699,1.9994,2.0286,2.0576,2.0863,2.1147,2.1428,2.1705,2.1978,2.2248,2.2513,2.2773,2.3029,2.328,2.3525,2.3766,2.4,2.4238,2.4487,2.4745,2.5009,2.5276,2.5545,2.5812,2.6075,2.6331,2.6579,2.6815,2.7037,2.7242,2.7428,2.7592,2.7732,2.7846,2.793,2.7982,2.8,2.8,2.8,2.8,2.8,2.8,2.8,2.8,2.8,2.8,2.8,2.8,2.8,2.8,2.8,2.8,2.8,2.8,2.8,2.8,2.8,2.8,2.8,2.8,2.8,2.8,2.8,2.8,2.8,2.8,2.8,2.8,2.8,2.8,2.8,2.8,2.8,2.8,2.8,2.8,2.8],[2.0,2.0,2.0,2.0,2.0,2.0,2.0,2.0,2.0,2.0,2.0,2.0,2.0,2.0,2.0,2.0,2.0,2.0,2.0,2.0,2.0,2.0,2.0,2.0,2.0,2.0,2.0,2.0,2.0,2.0,2.0,2.0,2.0,2.0,2.0,2.0,2.0,2.0,2.0,2.0,2.0,2.0,2.0,2.0,2.0,2.0,2.0,2.0,2.0,2.0,2.0,2.0,2.0,2.0,2.0,2.0,2.0,2.0,2.0,2.0,2.0,2.0,2.0,2.0,2.0,2.0,2.0,2.0,2.0,2.0,2.0,2.0,2.0,2.0,2.0,2.0,2.0,2.0,2.0,2.0,2.0,2.0,2.0,2.0,2.0,2.0,2.0,2.0,2.0,2.0,2.0,2.0,2.0,2.0,2.0,2.0,2.0,2.0,2.0,2.0,2.0,2.0,2.0,2.0,2.0,2.0,2.0,2.0,2.0,2.0,2.0,2.0,2.0,2.0,2.0,2.0,2.0,2.0,2.0,2.0,2.0,2.0,2.0,2.0,2.0,2.0,2.0,2.0,2.0,2.0,2.0,2.0,2.0,2.0,2.0,2.0,2.0,2.0,2.0,2.0,2.0]]];
var BG=[0.29,0.29,0.29,0.2896,0.2886,0.287,0.2847,0.282,0.2789,0.2753,0.2715,0.2673,0.263,0.2585,0.2538,0.2492,0.2446,0.24,0.2351,0.2293,0.2229,0.2161,0.2088,0.2013,0.1938,0.1863,0.1791,0.1722,0.1658,0.16,0.1546,0.1493,0.1442,0.1391,0.1342,0.1295,0.125,0.1208,0.1169,0.1133,0.11,0.1067,0.1035,0.101,0.1,0.1001,0.1004,0.1009,0.1015,0.1023,0.1031,0.1041,0.1051,0.1061,0.1071,0.1081,0.1091,0.11,0.1109,0.1119,0.1129,0.114,0.1151,0.1162,0.1173,0.1185,0.1196,0.1206,0.1216,0.1226,0.1235,0.1243,0.125,0.1257,0.1264,0.127,0.1277,0.1283,0.1289,0.1293,0.1297,0.1299,0.13,0.1299,0.1297,0.1293,0.1289,0.1283,0.1277,0.127,0.1264,0.1257,0.125,0.1243,0.1235,0.1226,0.1216,0.1206,0.1196,0.1185,0.1173,0.1162,0.1151,0.114,0.1129,0.1119,0.1109,0.11,0.1091,0.1081,0.1071,0.1061,0.1051,0.1041,0.1031,0.1023,0.1015,0.1009,0.1004,0.1001,0.1,0.1012,0.1043,0.1088,0.1141,0.1198,0.1253,0.13,0.1341,0.1382,0.1422,0.1461,0.15,0.1539,0.1578,0.1617,0.1656,0.1695,0.1735,0.1775,0.1816,0.1857,0.19,0.1944,0.1991,0.204,0.209,0.2141,0.2193,0.2245,0.2296,0.2346,0.2395,0.2442,0.2486,0.2528,0.2566,0.26,0.2632,0.2663,0.2693,0.2721,0.2749,0.2775,0.28,0.2824,0.2845,0.2865,0.2884,0.29];
for(var j=0;j<H;j++){for(var i=0;i<W;i++){
 var x=X0+i+0.5,y=Y0+(j+0.5)*SY;
 var yi=y-218,bi=Math.max(0,Math.min(BG.length-2,Math.floor(yi))),bf=yi-bi;
 var v=BG[bi]*(1-bf)+BG[bi+1]*bf;
 for(var k=0;k<3;k++){var b=B[k],dx=x-b[0],dy=y-b[1];
  var ax=A(dx),r=S(dx*dx+dy*dy*b[3][0]*b[3][0]);
  for(var it=0;it<8;it++){var kk=lk(b[3],r),nn=lk(b[4],r),ay=A(dy)*kk;r=Math.pow(Math.pow(ax,nn)+Math.pow(ay,nn),1/nn);}
  var w=lk(b[2],r); if(w>v)v=w;}
 var t=cl((v-0.044)/1.218);
 var R=cl(1.5-A(4*t-3)),G=cl(1.5-A(4*t-2)),Bb=cl(1.5-A(4*t-1));
 var q=(j*W+i)*4;d[q]=R*255;d[q+1]=G*255;d[q+2]=Bb*255;d[q+3]=255;}}
ctx.putImageData(im,0,0);
})();

</script>
</body></html>
